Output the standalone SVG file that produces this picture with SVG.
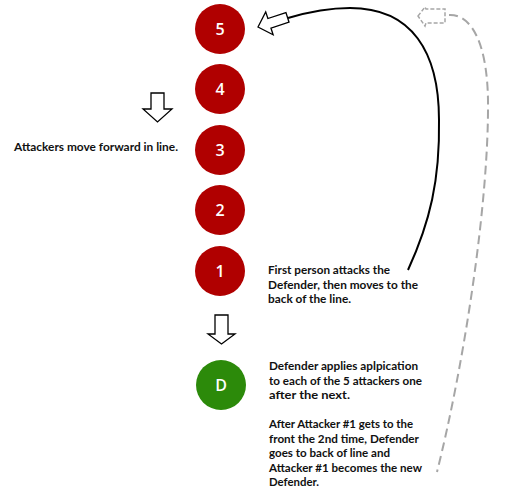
<svg xmlns="http://www.w3.org/2000/svg" width="508" height="501" viewBox="0 0 508 501">
<style>
.att{fill:#B00000}
.def{fill:#2C8A0A}
.num{font-family:"Open Sans",Lato,"Liberation Sans",sans-serif;font-size:16px;font-weight:600;fill:#fff;text-anchor:middle}
.lbl{font-family:Lato,"Liberation Sans",sans-serif;font-size:11px;font-weight:bold;fill:#111}
.blk{fill:#fff;stroke:#000;stroke-width:1.3;stroke-linejoin:miter}
</style>
<rect width="508" height="501" fill="#fff"/>
<g id="node-5"><circle class="att" cx="220" cy="29" r="25"/><text class="num" x="220" y="35">5</text></g>
<g id="node-4"><circle class="att" cx="220" cy="89" r="25"/><text class="num" x="220" y="95">4</text></g>
<g id="node-3"><circle class="att" cx="220" cy="150" r="25"/><text class="num" x="220" y="156">3</text></g>
<g id="node-2"><circle class="att" cx="220" cy="210" r="25"/><text class="num" x="220" y="216">2</text></g>
<g id="node-1"><circle class="att" cx="220" cy="271" r="25"/><text class="num" x="220" y="277">1</text></g>
<g id="node-D"><circle class="def" cx="221" cy="385" r="25"/><text class="num" x="221" y="391">D</text></g>
<g id="connectors">
<path d="M288,18 C315,10 335,8 350,8 C412,8 439,52 439,120 C440,180 430,222 408,270" fill="none" stroke="#000" stroke-width="2"/>
<polygon class="blk" transform="translate(258,27) rotate(-18)" points="0,0 12,-12 12,-5 31,-5 31,5 12,5 12,12"/>
<path d="M449,15 C470,14 487,40 488,100 C489,200 465,360 437,472" fill="none" stroke="#A6A6A6" stroke-width="2" stroke-dasharray="9,5"/>
<polygon points="418,16 425,7 426,9 445,9 445,23 426,23 425,26" fill="#fff" stroke="#A6A6A6" stroke-width="1.5" stroke-dasharray="4,2"/>
<polygon class="blk" points="151,93 164,93 164,109 172,109 157.5,122 143,109 151,109"/>
<polygon class="blk" points="215,315 228,315 228,334 235,334 221.5,344 208,334 215,334"/>
</g>
<g id="labels">
<text class="lbl" x="14" y="151" textLength="164" lengthAdjust="spacingAndGlyphs">Attackers move forward in line.</text>
<text class="lbl" x="268" y="274" textLength="122" lengthAdjust="spacingAndGlyphs">First person attacks the</text>
<text class="lbl" x="268" y="288.5" textLength="150" lengthAdjust="spacingAndGlyphs">Defender, then moves to the</text>
<text class="lbl" x="268" y="303" textLength="83" lengthAdjust="spacingAndGlyphs">back of the line.</text>
<text class="lbl" x="269" y="370" textLength="149" lengthAdjust="spacingAndGlyphs">Defender applies aplpication</text>
<text class="lbl" x="269" y="384.5" textLength="153" lengthAdjust="spacingAndGlyphs">to each of the 5 attackers one</text>
<text class="lbl" x="269" y="399" textLength="81" lengthAdjust="spacingAndGlyphs">after the next.</text>
<text class="lbl" x="269" y="428" textLength="144" lengthAdjust="spacingAndGlyphs">After Attacker #1 gets to the</text>
<text class="lbl" x="269" y="442.5" textLength="150" lengthAdjust="spacingAndGlyphs">front the 2nd time, Defender</text>
<text class="lbl" x="269" y="457" textLength="121" lengthAdjust="spacingAndGlyphs">goes to back of line and</text>
<text class="lbl" x="269" y="471.5" textLength="153" lengthAdjust="spacingAndGlyphs">Attacker #1 becomes the new</text>
<text class="lbl" x="269" y="486" textLength="50" lengthAdjust="spacingAndGlyphs">Defender.</text>
</g>
</svg>
